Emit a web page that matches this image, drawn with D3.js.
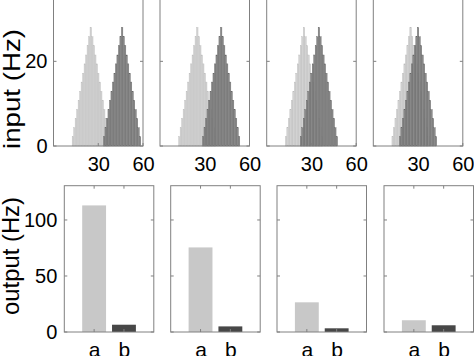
<!DOCTYPE html>
<html><head><meta charset="utf-8">
<script src="https://cdn.jsdelivr.net/npm/d3@7"></script>
<style>html,body{margin:0;padding:0;background:#fff;overflow:hidden}svg{display:block}</style>
</head><body>
<script>
// ---- data ----
const binCenters = d3.range(1, 61); // input neuron index (bins 1..60)
const inputXTicks = [30, 60];
const inputYTicks = [0, 20];
const inputLight = [
  0,0,0,0,0,0,0,0,0,0, 0,0,
  2.2,4.3,6.5,8.6,10.8,12.9,15.1,17.2,19.4,21.5,23.7,25.8,28,25.8,23.7,21.5,19.4,17.2,15.1,12.9,10.8,8.6,6.5,4.3,2.2,
  0,0,0,0,0,0,0,0,0,0, 0,0,0,0,0,0,0,0,0,0, 0,0,0
];
const inputDark1 = [
  0,0,0,0,0,0,0,0,0,0, 0,0,0,0,0,0,0,0,0,0, 0,0,0,0,0,0,0,0,0,0, 0,0,0,
  2.2,4.3,6.5,8.6,10.8,12.9,15.1,17.2,19.4,21.5,23.7,25.8,28,25.8,23.7,21.5,19.4,17.2,15.1,12.9,10.8,8.6,6.5,4.3,2.2,
  0,0
];
const inputDark2 = [
  0,0,0,0,0,0,0,0,0,0, 0,0,0,0,0,0,0,0,0,0, 0,0,0,0,0,0,0,0,
  2.2,4.3,6.5,8.6,10.8,12.9,15.1,17.2,19.4,21.5,23.7,25.8,28,25.8,23.7,21.5,19.4,17.2,15.1,12.9,10.8,8.6,6.5,4.3,2.2,
  0,0,0,0,0,0,0
];
const inputDark3 = [
  0,0,0,0,0,0,0,0,0,0, 0,0,0,0,0,0,0,0,0,0, 0,0,
  2.2,4.3,6.5,8.6,10.8,12.9,15.1,17.2,19.4,21.5,23.7,25.8,28,25.8,23.7,21.5,19.4,17.2,15.1,12.9,10.8,8.6,6.5,4.3,2.2,
  0,0,0,0,0,0,0,0,0,0, 0,0,0
];
const inputDark4 = [
  0,0,0,0,0,0,0,0,0,0, 0,0,0,0,0,0,0,
  2.2,4.3,6.5,8.6,10.8,12.9,15.1,17.2,19.4,21.5,23.7,25.8,28,25.8,23.7,21.5,19.4,17.2,15.1,12.9,10.8,8.6,6.5,4.3,2.2,
  0,0,0,0,0,0,0,0,0,0, 0,0,0,0,0,0,0,0
];
const inputDarkSets = [inputDark1, inputDark2, inputDark3, inputDark4];

const outputCategories = ["a", "b"];
const outputA = [113, 75.5, 26.5, 10.5];
const outputB = [6.5, 5, 3.3, 6];
const outputYTicks = [0, 50, 100];

// ---- layout ----
const W = 474, H = 356;
const svg = d3.select("body").append("svg").attr("width", W).attr("height", H)
  .style("font-family", "'Liberation Sans', Arial, Helvetica, sans-serif");

const axisColor = "#808080";
const fontSize = 20;
const tickLen = 3;

const topLefts = [53.5, 160, 266.7, 373.3];
const botLefts = [64.3, 170.7, 277, 384];
const panelW = 89.5;
const topY0 = -3, topY1 = 146;
const botY0 = 185.7, botY1 = 332;

function frame(g, w, h) {
  g.append("rect").attr("x", 0).attr("y", 0).attr("width", w).attr("height", h)
    .attr("fill", "none").attr("stroke", axisColor).attr("stroke-width", 1);
}
function ticksInside(g, xs, ys, w, h) {
  xs.forEach(x => {
    g.append("line").attr("x1", x).attr("x2", x).attr("y1", h).attr("y2", h - tickLen).attr("stroke", axisColor);
    g.append("line").attr("x1", x).attr("x2", x).attr("y1", 0).attr("y2", tickLen).attr("stroke", axisColor);
  });
  ys.forEach(y => {
    g.append("line").attr("y1", y).attr("y2", y).attr("x1", 0).attr("x2", tickLen).attr("stroke", axisColor);
    g.append("line").attr("y1", y).attr("y2", y).attr("x1", w).attr("x2", w - tickLen).attr("stroke", axisColor);
  });
}

// ---- top row: input histograms ----
const topH = topY1 - topY0;
const xIn = d3.scaleLinear().domain([0, 60]).range([0, panelW]);
const yIn = d3.scaleLinear().domain([0, 35.2]).range([topH, 0]);

topLefts.forEach((left, i) => {
  const g = svg.append("g").attr("transform", `translate(${left},${topY0})`);
  const series = [
    {vals: inputLight, fill: "#d2d2d2", stroke: "#bdbdbd"},
    {vals: inputDarkSets[i], fill: "#8a8a8a", stroke: "#666"}
  ];
  series.forEach(s => {
    g.append("g").selectAll("rect")
      .data(binCenters.map((b, k) => ({b, v: s.vals[k]})).filter(d => d.v > 0))
      .join("rect")
      .attr("x", d => xIn(d.b - 0.5))
      .attr("width", d => xIn(d.b + 0.5) - xIn(d.b - 0.5))
      .attr("y", d => yIn(d.v))
      .attr("height", d => yIn(0) - yIn(d.v))
      .attr("fill", s.fill)
      .attr("stroke", s.stroke)
      .attr("stroke-width", 0.4);
  });
  frame(g, panelW, topH);
  ticksInside(g, inputXTicks.map(xIn), inputYTicks.map(yIn), panelW, topH);
  const xa = d3.axisBottom(xIn).tickValues(inputXTicks).tickSize(0).tickPadding(11);
  const xg = g.append("g").attr("transform", `translate(0,${topH})`).call(xa);
  xg.select(".domain").remove();
  xg.selectAll("text").attr("font-size", fontSize).attr("fill", "#000").attr("font-family", null);
  if (i === 0) {
    const ya = d3.axisLeft(yIn).tickValues(inputYTicks).tickSize(0).tickPadding(6);
    const yg = g.append("g").call(ya);
    yg.select(".domain").remove();
    yg.selectAll("text").attr("font-size", fontSize).attr("fill", "#000").attr("font-family", null);
  }
});

svg.append("text").attr("transform", "translate(20,89) rotate(-90)")
  .attr("text-anchor", "middle").attr("font-size", 24).attr("fill", "#000")
  .attr("textLength", 120).attr("lengthAdjust", "spacingAndGlyphs")
  .text("input (Hz)");

// ---- bottom row: output bars ----
const botH = botY1 - botY0;
const yOut = d3.scaleLinear().domain([0, 130.6]).range([botH, 0]);
// categories at 1 and 2 with xlim [0,3]; bar width 0.8 of a slot
const xPos = d3.scalePoint().domain(outputCategories).range([panelW / 3, 2 * panelW / 3]);
const barW = 0.8 * panelW / 3;
const barColors = {a: "#c8c8c8", b: "#474747"};

botLefts.forEach((left, i) => {
  const g = svg.append("g").attr("transform", `translate(${left},${botY0})`);
  const vals = [{c: "a", v: outputA[i]}, {c: "b", v: outputB[i]}];
  g.selectAll("rect.bar").data(vals).join("rect").attr("class", "bar")
    .attr("x", d => xPos(d.c) - barW / 2)
    .attr("width", barW)
    .attr("y", d => yOut(d.v))
    .attr("height", d => yOut(0) - yOut(d.v))
    .attr("fill", d => barColors[d.c]);
  frame(g, panelW, botH);
  ticksInside(g, outputCategories.map(xPos), outputYTicks.map(yOut), panelW, botH);
  const xa = d3.axisBottom(xPos).tickSize(0).tickPadding(10);
  const xg = g.append("g").attr("transform", `translate(0,${botH})`).call(xa);
  xg.select(".domain").remove();
  xg.selectAll("text").attr("font-size", 21).attr("fill", "#000").attr("font-family", null);
  if (i === 0) {
    const ya = d3.axisLeft(yOut).tickValues(outputYTicks).tickSize(0).tickPadding(7);
    const yg = g.append("g").call(ya);
    yg.select(".domain").remove();
    yg.selectAll("text").attr("font-size", fontSize).attr("fill", "#000").attr("font-family", null);
  }
});

svg.append("text").attr("transform", "translate(19,256) rotate(-90)")
  .attr("text-anchor", "middle").attr("font-size", 24).attr("fill", "#000")
  .attr("textLength", 118).attr("lengthAdjust", "spacingAndGlyphs")
  .text("output (Hz)");
</script>
</body></html>
